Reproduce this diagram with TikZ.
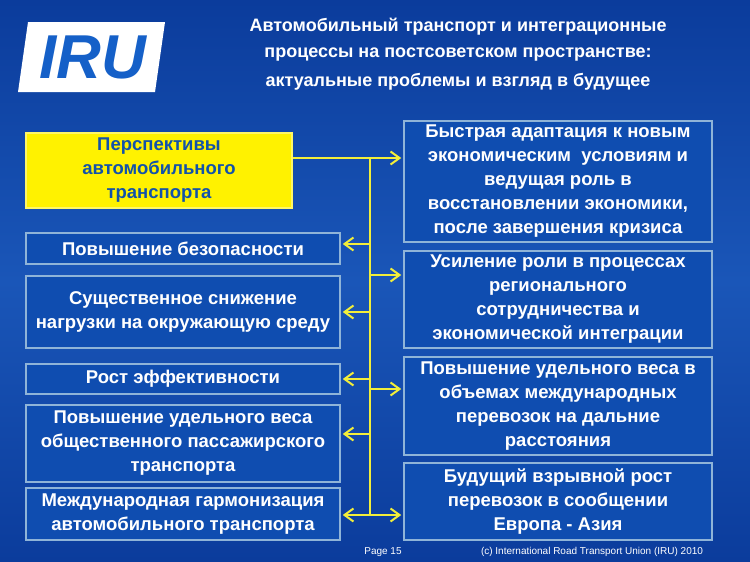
\documentclass[tikz,border=0pt]{standalone}
\usepackage{fontspec}
\setmainfont{Liberation Sans}
\usetikzlibrary{arrows.meta,positioning}
\definecolor{bgblue}{HTML}{0B3C9C}
\definecolor{bglight}{HTML}{1A56B8}
\definecolor{boxblue}{HTML}{0F4DB0}
\definecolor{boxedge}{HTML}{8FB4D8}
\definecolor{arrowyellow}{HTML}{F2EE3A}
\definecolor{logoblue}{HTML}{1560C8}
\begin{document}
\begin{tikzpicture}[
  x=1pt,y=-1pt,
  item/.style={draw=boxedge,fill=boxblue,line width=1.5pt,text=white,font=\fontsize{18.5pt}{24pt}\selectfont\bfseries,align=center,inner sep=1pt},
  lead/.style={item,fill=yellow,draw=yellow!60!white,text=logoblue!85!black},
  arr/.style={-{Straight Barb[length=9pt,width=13pt]},arrowyellow,line width=2pt},
  titletext/.style={text=white,font=\fontsize{18pt}{20pt}\selectfont\bfseries},
  foot/.style={text=white,font=\fontsize{10pt}{12pt}\selectfont}
]
  % background
  \shade[top color=bgblue,bottom color=bgblue,middle color=bglight] (0,0) rectangle (750,562);
  \useasboundingbox (0,0) rectangle (750,562);
  % logo
  \fill[white] (28,22) -- (165,22) -- (155,92) -- (18,92) -- cycle;
  \node[text=logoblue,font=\fontsize{62pt}{62pt}\selectfont\bfseries\itshape] (logo) at (93,57) {IRU};
  % title
  \node[titletext] (t1) at (458,27) {Автомобильный транспорт и интеграционные};
  \node[titletext] (t2) at (458,55) {процессы на постсоветском пространстве:};
  \node[titletext] (t3) at (458,82) {актуальные проблемы и взгляд в будущее};
  % left column
  \node[lead,minimum width=266pt,minimum height=75pt,text width=250pt] (persp) at (159,170.5) {Перспективы\\автомобильного\\транспорта};
  \node[item,minimum width=314pt,minimum height=31pt] (safety) at (183,248.5) {Повышение безопасности};
  \node[item,minimum width=314pt,minimum height=72pt] (env) at (183,312) {Существенное снижение\\нагрузки на окружающую среду};
  \node[item,minimum width=314pt,minimum height=30pt] (eff) at (183,379) {Рост эффективности};
  \node[item,minimum width=314pt,minimum height=77pt] (pass) at (183,443.5) {Повышение удельного веса\\общественного пассажирского\\транспорта};
  \node[item,minimum width=314pt,minimum height=52pt] (harm) at (183,514) {Международная гармонизация\\автомобильного транспорта};
  % right column
  \node[item,minimum width=308pt,minimum height=121pt] (adapt) at (558,181.5) {Быстрая адаптация к новым\\экономическим \ условиям и\\ведущая роль в\\восстановлении экономики,\\после завершения кризиса};
  \node[item,minimum width=308pt,minimum height=97pt] (region) at (558,299.5) {Усиление роли в процессах\\регионального\\сотрудничества и\\экономической интеграции};
  \node[item,minimum width=308pt,minimum height=98pt] (share) at (558,406) {Повышение удельного веса в\\объемах международных\\перевозок на дальние\\расстояния};
  \node[item,minimum width=308pt,minimum height=77pt] (asia) at (558,501.5) {Будущий взрывной рост\\перевозок в сообщении\\Европа - Азия};
  % connectors
  \coordinate (top) at (370,158);
  \coordinate (bot) at (370,515);
  \draw[arrowyellow,line width=2pt] (top) -- (bot);
  \draw[arr] (persp.east |- top) -- ([xshift=-2pt]adapt.west |- top);
  \foreach \n/\y in {safety/244,env/312,eff/379,pass/434,harm/515}
    \draw[arr] (370,\y) -- ([xshift=2pt]\n.east |- 0,\y);
  \foreach \n/\y in {region/275,share/389,asia/515}
    \draw[arr] (370,\y) -- ([xshift=-2pt]\n.west |- 0,\y);
  % footer
  \node[foot] (page) at (383,552) {Page 15};
  \node[foot] (copy) at (592,552) {(c) International Road Transport Union (IRU) 2010};
\end{tikzpicture}
\end{document}
